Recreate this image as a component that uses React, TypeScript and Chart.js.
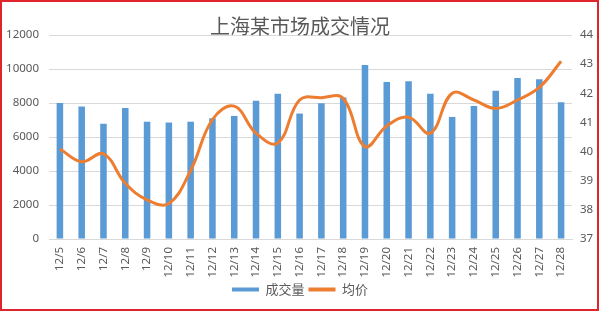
import React, { useEffect, useRef } from "react";
import { Chart, registerables } from "chart.js";

Chart.register(...registerables);

const categories = ["12/5","12/6","12/7","12/8","12/9","12/10","12/11","12/12","12/13","12/14","12/15","12/16","12/17","12/18","12/19","12/20","12/21","12/22","12/23","12/24","12/25","12/26","12/27","12/28"];
const volume = [8000,7800,6780,7700,6900,6850,6900,7100,7240,8130,8550,7380,7980,8330,10240,9240,9280,8550,7180,7820,8720,9470,9390,8040];
const avgPrice = [40.09,39.65,39.92,38.91,38.34,38.22,39.35,41.1,41.56,40.63,40.29,41.77,41.85,41.83,40.17,40.88,41.18,40.63,42.0,41.77,41.48,41.77,42.2,43.1];
const title = "上海某市场成交情况";
const volumeLabel = "成交量";
const priceLabel = "均价";

const FONT = "'Noto Sans', 'Noto Sans CJK SC', sans-serif";
const CJK = "'Noto Sans CJK SC', sans-serif";
const GRAY = "#595959";

export default function App() {
  const ref = useRef<HTMLCanvasElement>(null);
  useEffect(() => {
    if (!ref.current) return;
    const chart = new Chart(ref.current, {
      data: {
        labels: categories,
        datasets: [
          {
            type: "bar",
            label: volumeLabel,
            data: volume,
            backgroundColor: "#5B9BD5",
            borderWidth: 0,
            barPercentage: 0.3,
            categoryPercentage: 1,
            yAxisID: "y",
            order: 2,
          },
          {
            type: "line",
            label: priceLabel,
            data: avgPrice,
            borderColor: "#ED7D31",
            backgroundColor: "#ED7D31",
            borderWidth: 3,
            pointRadius: 0,
            tension: 0.4,
            yAxisID: "y1",
            order: 1,
          },
        ],
      },
      options: {
        responsive: false,
        animation: false,
        layout: { padding: { left: 0, right: 0, top: 0, bottom: 6 } },
        plugins: {
          title: {
            display: true,
            text: title,
            color: GRAY,
            font: { family: CJK, size: 20, weight: "normal", lineHeight: 0.9 },
            padding: { top: 17, bottom: 0 },
          },
          legend: {
            position: "bottom",
            labels: {
              color: GRAY,
              font: { family: CJK, size: 13 },
              boxWidth: 27,
              boxHeight: 4,
              padding: 4,
              sort: (a: any, b: any) => a.datasetIndex - b.datasetIndex,
              generateLabels: (c: any) => {
                const items = Chart.defaults.plugins.legend.labels.generateLabels(c);
                return items.map((it: any) => ({ ...it, lineWidth: 0 }));
              },
            },
          },
          tooltip: { enabled: false },
        },
        scales: {
          x: {
            grid: { display: false, drawTicks: false },
            border: { display: true, color: "#D9D9D9" },
            ticks: {
              color: GRAY,
              font: { family: FONT, size: 11.5 },
              minRotation: 90,
              maxRotation: 90,
              padding: 8,
            },
            afterFit: (scale: any) => {
              scale.height = 40;
            },
          },
          y: {
            position: "left",
            min: 0,
            max: 12000,
            ticks: {
              stepSize: 2000,
              color: GRAY,
              font: { family: FONT, size: 11.5 },
              padding: 10,
              callback: (v: any) => String(v),
            },
            grid: { color: "#D9D9D9", drawTicks: false },
            border: { display: false },
            afterFit: (scale: any) => {
              scale.width = 49;
            },
          },
          y1: {
            position: "right",
            min: 37,
            max: 44,
            ticks: { stepSize: 1, color: GRAY, font: { family: FONT, size: 11.5 }, padding: 8 },
            grid: { display: false, drawTicks: false },
            border: { display: false },
            afterFit: (scale: any) => {
              scale.width = 28;
            },
          },
        },
      },
    });
    return () => chart.destroy();
  }, []);
  return (
    <div style={{ position: "fixed", left: 0, top: 0, width: 600, height: 312, background: "#fff" }}>
      <canvas ref={ref} width={600} height={312} style={{ display: "block" }} />
      <div
        style={{
          position: "absolute",
          left: 0,
          top: 0,
          width: 599,
          height: 311,
          boxSizing: "border-box",
          border: "2px solid #E0242B",
          pointerEvents: "none",
        }}
      />
    </div>
  );
}
